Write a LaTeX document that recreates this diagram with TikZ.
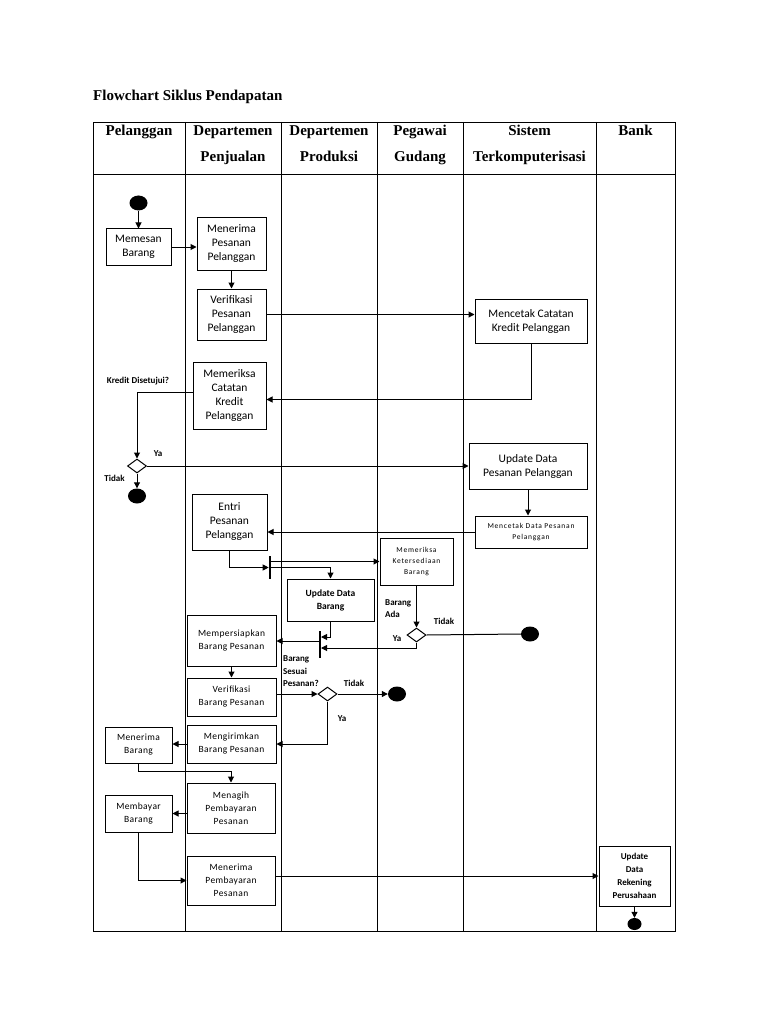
\documentclass[tikz,border=0pt]{standalone}
\usepackage{fontspec}
\usetikzlibrary{arrows.meta,shapes.geometric,calc}
\setmainfont{Liberation Serif}
\newfontfamily\calfont{Carlito}
\newfontfamily\calspfont[LetterSpace=4]{Carlito}
\newfontfamily\caltinyfont[LetterSpace=10]{Carlito}
\begin{document}
\begin{tikzpicture}[x=1pt,y=-1pt,
  bx/.style={draw, line width=1pt, inner sep=0pt, align=center, font=\calfont\fontsize{11.5}{14}\selectfont},
  mbx/.style={bx, font=\calspfont\fontsize{9.5}{13}\selectfont},
  tbx/.style={bx, font=\caltinyfont\fontsize{7.5}{11}\selectfont},
  bbx/.style={bx, font=\calfont\bfseries\fontsize{9.5}{13}\selectfont},
  lbl/.style={font=\calfont\bfseries\fontsize{9}{12.5}\selectfont, inner sep=0pt, align=left},
  hdr/.style={font=\bfseries\fontsize{15}{18}\selectfont, inner sep=0pt},
  dec/.style={draw, line width=1pt, diamond, fill=white, inner sep=0pt, minimum width=19, minimum height=14},
  term/.style={ellipse, fill=black, inner sep=0pt, minimum width=18, minimum height=15},
  forkbar/.style={fill=black, inner sep=0pt, minimum width=2.2, minimum height=23},
  ar/.style={draw, line width=1pt, -{Triangle[length=6pt,width=6pt]}},
  ln/.style={draw, line width=1pt},
  tbl/.style={draw, line width=0.9pt}
]
\useasboundingbox (0,0) rectangle (768,1024);
\fill[white] (0,0) rectangle (768,1024);

% title
\node[anchor=base west, font=\bfseries\fontsize{15}{18}\selectfont, inner sep=0pt] (title) at (93,101) {Flowchart Siklus Pendapatan};

% table
\draw[tbl] (93,122) rectangle (675,931);
\draw[tbl] (93,174) -- (675,174);
\foreach \cx in {185,281,377,463,596} {\draw[tbl] (\cx,122) -- (\cx,931);}

% headers
\node[hdr, anchor=base] (h1) at (139,136) {Pelanggan};
\node[hdr, anchor=base] (h2a) at (233,136) {Departemen};
\node[hdr, anchor=base] (h2b) at (233,162) {Penjualan};
\node[hdr, anchor=base] (h3a) at (329,136) {Departemen};
\node[hdr, anchor=base] (h3b) at (329,162) {Produksi};
\node[hdr, anchor=base] (h4a) at (420,136) {Pegawai};
\node[hdr, anchor=base] (h4b) at (420,162) {Gudang};
\node[hdr, anchor=base] (h5a) at (529.5,136) {Sistem};
\node[hdr, anchor=base] (h5b) at (529.5,162) {Terkomputerisasi};
\node[hdr, anchor=base] (h6) at (635.5,136) {Bank};

% boxes
\node[bx, minimum width=65, minimum height=36] (memesan) at (138.5,247) {Memesan\\Barang};
\node[bx, minimum width=69, minimum height=52] (menerima) at (231.5,244) {Menerima\\Pesanan\\Pelanggan};
\node[bx, minimum width=69, minimum height=51] (verif) at (231.5,314.5) {Verifikasi\\Pesanan\\Pelanggan};
\node[bx, minimum width=112, minimum height=44] (cetak) at (531,321) {Mencetak Catatan\\Kredit Pelanggan};
\node[bx, minimum width=73, minimum height=67] (periksa) at (229.5,395.5) {Memeriksa\\Catatan\\Kredit\\Pelanggan};
\node[bx, minimum width=118, minimum height=46] (updpes) at (528,466) {Update Data\\Pesanan Pelanggan};
\node[tbx, minimum width=112, minimum height=32] (cetakdata) at (531,532) {Mencetak Data Pesanan\\Pelanggan};
\node[bx, minimum width=75, minimum height=56] (entri) at (229.5,522) {Entri\\Pesanan\\Pelanggan};
\node[tbx, minimum width=73, minimum height=47] (sedia) at (416.5,561.5) {Memeriksa\\Ketersediaan\\Barang};
\node[bbx, minimum width=87, minimum height=42] (updbarang) at (330.5,600) {Update Data\\Barang};
\node[mbx, minimum width=89, minimum height=51] (siap) at (231.5,640.5) {Mempersiapkan\\Barang Pesanan};
\node[mbx, minimum width=89, minimum height=38] (verifbarang) at (231.5,697) {Verifikasi\\Barang Pesanan};
\node[mbx, minimum width=89, minimum height=38] (kirim) at (231.5,744) {Mengirimkan\\Barang Pesanan};
\node[mbx, minimum width=67, minimum height=36] (terimabarang) at (138.5,745) {Menerima\\Barang};
\node[mbx, minimum width=88, minimum height=50] (menagih) at (231,808) {Menagih\\Pembayaran\\Pesanan};
\node[mbx, minimum width=67, minimum height=37] (membayar) at (138.5,813.5) {Membayar\\Barang};
\node[mbx, minimum width=88, minimum height=49] (terimabayar) at (231,880.5) {Menerima\\Pembayaran\\Pesanan};
\node[bbx, font=\calfont\bfseries\fontsize{9}{13}\selectfont, minimum width=71, minimum height=60] (rekening) at (634.5,876) {Update\\Data\\Rekening\\Perusahaan};

% terminals, decisions, forks
\node[term] (start) at (138.5,203) {};
\node[term] (end1) at (137,496) {};
\node[term] (end2) at (530,634) {};
\node[term] (end3) at (397,694) {};
\node[term, minimum width=14, minimum height=12] (end4) at (634.5,924) {};
\node[dec] (d1) at (137,466) {};
\node[dec] (d2) at (416.5,635) {};
\node[dec] (d3) at (327.5,694) {};
\node[forkbar] (fork1) at (270,567.5) {};
\node[forkbar, minimum height=27] (fork2) at (320,644.5) {};
\coordinate (f2inA) at (321,637);
\coordinate (f2inB) at (321,648);
\coordinate (f2out) at (319,641);

% labels
\node[lbl] (lkredit) at (138,381) {Kredit Disetujui?};
\node[lbl] (lya1) at (158,454) {Ya};
\node[lbl] (ltidak1) at (114.5,478) {Tidak};
\node[lbl, anchor=west] (lada) at (385,608.5) {Barang\\Ada};
\node[lbl] (ltidak2) at (444,621) {Tidak};
\node[lbl] (lya2) at (397,639) {Ya};
\node[lbl, anchor=west] (lsesuai) at (283,671.5) {Barang\\Sesuai\\Pesanan?};
\node[lbl] (ltidak3) at (354,683) {Tidak};
\node[lbl] (lya3) at (342,719) {Ya};

% connectors
\draw[ar] (start.south) -- (memesan.north);
\draw[ar] (memesan.east) -- (memesan.east -| menerima.west);
\draw[ar] (menerima.south) -- (verif.north);
\draw[ar] (verif.east) -- (verif.east -| cetak.west);
\draw[ar] (cetak.south) |- ($(periksa.east)+(0,4)$);
\draw[ar] (periksa.west |- 0,392) -| (d1.north);
\draw[ar] (d1.south) -- (end1.north);
\draw[ar] (d1.east) -- (updpes.west);
\draw[ar] (updpes.south) -- (updpes.south |- cetakdata.north);
\draw[ar] (cetakdata.west) -- (cetakdata.west -| entri.east);
\draw[ar] (entri.south) |- (fork1.west);
\draw[ar] (sedia.west -| fork1.east) -- (sedia.west);
\draw[ar] (fork1.east) -| (updbarang.north);
\draw[ar] (sedia.south) -- (d2.north);
\draw[ln] (d2.east) -- (end2.west);
\draw[ar] (updbarang.south) |- (f2inA);
\draw[ar] (d2.south) |- (f2inB);
\draw[ar] (f2out) -- (f2out -| siap.east);
\draw[ar] (siap.south) -- (verifbarang.north);
\draw[ar] (verifbarang.east |- d3.west) -- (d3.west);
\draw[ar] (d3.east) -- (end3.west);
\draw[ar] (d3.south) |- (kirim.east);
\draw[ar] (kirim.west) -- (kirim.west -| terimabarang.east);
\draw[ar] (terimabarang.south) -- ++(0,8) -| (menagih.north);
\draw[ar] (menagih.west |- membayar.east) -- (membayar.east);
\draw[ar] (membayar.south) |- (terimabayar.west);
\draw[ar] (terimabayar.east |- rekening.west) -- (rekening.west);
\draw[ar] (rekening.south) -- (end4.north);
\end{tikzpicture}
\end{document}
